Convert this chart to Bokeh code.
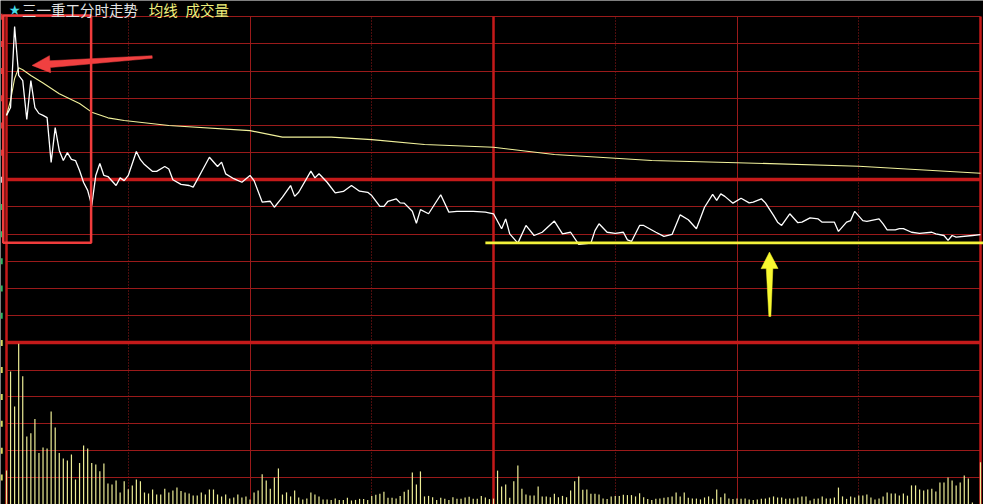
import math
from bokeh.plotting import figure
from bokeh.models import Range1d, Grid, FixedTicker, BoxAnnotation, Label
from bokeh.embed import file_html
from bokeh.resources import INLINE

# ---------------- data ----------------
TITLE_STAR = "★"
TITLE_NAME = "三一重工分时走势"
TITLE_AVG = "均线"
TITLE_VOL = "成交量"

# price line (minute index from 9:30, % change vs previous close)
PRICE_MIN = [0, 1, 2, 3, 4, 5, 6, 7, 8, 9, 10, 11, 12, 13, 14, 15, 16, 17, 18, 19,
             20, 21, 22, 23, 24, 25, 27, 28, 29, 30, 32, 33, 34, 36, 37, 39, 40, 41, 43, 45,
             46, 48, 50, 52, 53, 54, 56, 58, 60, 61, 63, 65, 66, 68, 70, 71, 72, 75, 76, 77,
             79, 81, 83, 85, 87, 89, 90, 92, 93, 94, 96, 97, 98, 100, 101, 102, 104, 107, 109, 111,
             115, 118, 120, 122, 123, 124, 126, 128, 130, 132, 135, 137, 139, 141, 144, 145, 146, 148, 150, 152,
             153, 154, 156, 157, 160, 162, 164, 166, 168, 170, 172, 174, 175, 176, 177, 179, 181, 183, 184, 186,
             187, 189, 190, 191, 193, 195, 196, 198, 200, 201, 204, 205, 207, 208, 209, 211, 212, 215, 216, 217,
             219, 220, 221, 223, 225, 228, 229, 231, 232, 233, 234, 238, 240]
PRICE_PCT = [2.37, 2.66, 5.64, 3.84, 3.65, 2.22, 3.65, 2.66, 2.44, 2.37, 2.29, 0.64, 1.92, 1.08, 0.71, 1.00, 0.75, 0.71, 0.34, -0.10,
             -0.39, -0.95, 0.16, 0.60, 0.16, 0.12, -0.21, 0.07, -0.03, 0.16, 1.04, 0.74, 0.56, 0.31, 0.31, 0.49, 0.40, 0.00, -0.17, -0.21,
             -0.27, 0.28, 0.83, 0.49, 0.65, 0.22, 0.04, -0.09, 0.16, -0.03, -0.82, -0.79, -1.01, -0.64, -0.21, -0.61, -0.46, 0.32, 0.07, 0.22,
             -0.09, -0.48, -0.43, -0.21, -0.42, -0.46, -0.58, -0.98, -0.98, -0.79, -0.70, -0.85, -0.86, -1.16, -1.60, -1.10, -1.25, -0.55, -1.19, -1.16,
             -1.16, -1.19, -1.25, -1.80, -1.44, -1.99, -2.33, -1.68, -2.05, -1.93, -1.52, -1.99, -1.93, -2.38, -2.33, -1.87, -1.62, -1.93, -1.97, -1.93,
             -2.21, -2.27, -1.68, -1.68, -1.93, -2.08, -2.01, -1.29, -1.47, -1.80, -1.01, -0.54, -0.76, -0.52, -0.61, -0.86, -0.68, -0.85, -0.82, -0.70,
             -0.85, -1.31, -1.56, -1.68, -1.25, -1.58, -1.56, -1.40, -1.44, -1.56, -1.56, -1.90, -1.56, -1.50, -1.16, -1.50, -1.53, -1.44, -1.62, -1.84,
             -1.84, -1.80, -1.80, -1.93, -1.97, -1.93, -1.99, -2.05, -2.23, -2.05, -2.11, -2.05, -2.02]

# average price line
AVG_MIN = [0, 1, 2, 3, 4, 6, 9, 13, 18, 21, 25, 29, 40, 60, 68, 80, 90, 103, 120, 135, 159, 180, 210, 240]
AVG_PCT = [2.37, 2.92, 3.73, 4.12, 4.05, 3.84, 3.56, 3.17, 2.81, 2.49, 2.28, 2.18, 2.00, 1.81, 1.57, 1.57, 1.48, 1.30,
           1.20, 0.93, 0.71, 0.63, 0.50, 0.24]

# volume per minute (units of one volume grid step)
VOLUME = [1.26, 4.94, 3.64, 5.98, 4.77, 2.53, 2.65, 3.18, 1.91, 2.12,
          2.08, 3.46, 2.86, 1.91, 1.71, 1.64, 1.86, 0.93, 1.54, 2.19,
          2.08, 1.54, 1.49, 1.24, 1.52, 0.78, 0.74, 0.89, 0.45, 0.86,
          0.57, 0.71, 0.93, 0.86, 0.45, 0.41, 0.56, 0.37, 0.37, 0.59,
          0.45, 0.52, 0.63, 0.50, 0.45, 0.41, 0.33, 0.33, 0.45, 0.37,
          0.56, 0.56, 0.37, 0.30, 0.37, 0.22, 0.26, 0.37, 0.26, 0.30,
          0.19, 0.45, 0.52, 1.12, 0.89, 0.59, 1.00, 1.34, 0.37, 0.45,
          0.30, 0.52, 0.26, 0.19, 0.22, 0.45, 0.37, 0.30, 0.19, 0.19,
          0.17, 0.22, 0.17, 0.17, 0.25, 0.15, 0.17, 0.21, 0.20, 0.17,
          0.32, 0.36, 0.40, 0.47, 0.25, 0.25, 0.22, 0.32, 0.47, 0.55,
          1.19, 0.74, 1.23, 0.30, 0.32, 0.27, 0.17, 0.25, 0.21, 0.17,
          0.27, 0.21, 0.21, 0.26, 0.29, 0.21, 0.21, 0.32, 0.26, 0.20,
          0.22, 1.26, 0.67, 0.74, 0.25, 0.86, 1.45, 0.59, 0.37, 0.33,
          0.33, 0.67, 0.30, 0.30, 0.27, 0.40, 0.27, 0.32, 0.27, 0.52,
          0.86, 1.04, 0.55, 0.56, 0.40, 0.40, 0.37, 0.22, 0.20, 0.30,
          0.32, 0.32, 0.36, 0.35, 0.35, 0.30, 0.42, 0.27, 0.20, 0.17,
          0.21, 0.22, 0.25, 0.27, 0.30, 0.45, 0.30, 0.45, 0.25, 0.22,
          0.22, 0.19, 0.26, 0.30, 0.21, 0.56, 0.27, 0.41, 0.22, 0.20,
          0.22, 0.21, 0.22, 0.19, 0.17, 0.19, 0.21, 0.22, 0.26, 0.30,
          0.26, 0.26, 0.21, 0.22, 0.22, 0.26, 0.30, 0.30, 0.15, 0.21,
          0.22, 0.30, 0.22, 0.22, 0.26, 0.63, 0.30, 0.21, 0.30, 0.26,
          0.33, 0.33, 0.37, 0.26, 0.19, 0.22, 0.30, 0.45, 0.41, 0.41,
          0.33, 0.41, 0.33, 0.71, 0.71, 0.56, 0.52, 0.56, 0.59, 0.48,
          0.82, 0.82, 1.00, 0.89, 0.71, 0.82, 1.08, 0.97, 0.07, 0.00,
          1.57]
VOL_MIN = list(range(len(VOLUME)))

# grid ticks
TIME_DOTTED = [30, 90, 150, 210]
TIME_SOLID = [60, 180]
TIME_BOLD = [0, 120, 240]
PCT_THIN = [-5, -4, -3, -2, -1, 1, 2, 3, 4, 5, 6]
PCT_BOLD = [0, -6]
VOL_THIN = [1, 2, 3, 4, 5]

# annotations (data units: minutes, %)
BOX = dict(left=-0.8, right=20.85, top=6.05, bottom=-2.32)
RED_ARROW_TAIL = (35.9, 4.52)
RED_ARROW_TIP = (6.3, 4.21)
SUPPORT_LEVEL = -2.32
SUPPORT_FROM = 118.0
YEL_ARROW_TAIL = (188.1, -5.03)
YEL_ARROW_TIP = (188.0, -2.66)

# ---------------- layout ----------------
W, H = 983, 504
PX_PER_MIN = 974 / 240
PX_PER_PCT = 27.17
PX_PER_VOL = 26.9
LEFT_PAD = 6.0
ZERO_Y = 179.3

x_start = -LEFT_PAD / PX_PER_MIN
x_end = x_start + W / PX_PER_MIN
y_end = ZERO_Y / PX_PER_PCT
y_start = y_end - H / PX_PER_PCT

p = figure(width=W, height=H,
           x_range=Range1d(x_start, x_end), y_range=Range1d(y_start, y_end),
           x_axis_type=None, y_axis_type=None,
           toolbar_location=None, output_backend="svg", min_border=0,
           background_fill_color="#000000", border_fill_color="#000000",
           outline_line_color=None)
p.extra_y_ranges = {"vol": Range1d(0, H / PX_PER_VOL)}

GRID_RED = "#9a1a1a"
BOLD_RED = "#c41a1a"


def add_grid(dim, ticks, color, width, dash="solid", rname="default", cross=None):
    g = Grid(dimension=dim, ticker=FixedTicker(ticks=ticks), grid_line_color=color,
             grid_line_width=width, grid_line_dash=dash, y_range_name=rname)
    if cross is not None:
        g.cross_bounds = cross
    p.add_layout(g)


add_grid(1, PCT_THIN, GRID_RED, 1, cross=(0, 240))
add_grid(1, VOL_THIN, GRID_RED, 1, rname="vol", cross=(0, 240))
add_grid(0, TIME_DOTTED, GRID_RED, 1, dash="1 2", cross=(y_start - 1, 6))
add_grid(0, TIME_SOLID, GRID_RED, 1, cross=(y_start - 1, 6))
add_grid(0, TIME_BOLD, BOLD_RED, 2.5, cross=(y_start - 1, 6))
add_grid(1, PCT_BOLD, BOLD_RED, 3.5, cross=(0, 240))

# clipped stubs of the left scale labels (red above close, green below, yellow volume)
stub_x = x_start + 1.2 / PX_PER_MIN
pct_levels = sorted(PCT_THIN + PCT_BOLD[:1])
pct_cols = ["#d83030" if v > 0 else ("#cfcfcf" if v == 0 else "#2fb860") for v in pct_levels]
p.rect(x=[stub_x] * len(pct_levels), y=pct_levels, width=2, height=6,
       width_units="screen", height_units="screen", fill_color=pct_cols,
       line_color=None)
vol_levels = VOL_THIN + [6]
p.rect(x=[stub_x] * len(vol_levels), y=vol_levels, width=2, height=6,
       width_units="screen", height_units="screen", fill_color="#d8d860",
       line_color=None, y_range_name="vol")

# volume bars
p.segment(x0=VOL_MIN, y0=[0] * len(VOLUME), x1=VOL_MIN, y1=VOLUME, y_range_name="vol",
          line_color="#ecec96", line_width=1.2)

# average and price lines
p.line(AVG_MIN, AVG_PCT, line_color="#f2f29c", line_width=1.1)
p.line(PRICE_MIN, PRICE_PCT, line_color="#ffffff", line_width=1.3)

# annotations
p.add_layout(BoxAnnotation(fill_alpha=0, fill_color=None, line_color="#f03c3c",
                           line_alpha=1.0, line_width=2.5, **BOX))


def tapered_arrow(tail, tip, head_len, head_half, shaft_tail, shaft_head):
    tx, ty = tail[0] * PX_PER_MIN, tail[1] * PX_PER_PCT
    hx, hy = tip[0] * PX_PER_MIN, tip[1] * PX_PER_PCT
    dx, dy = hx - tx, hy - ty
    L = math.hypot(dx, dy)
    ux, uy = dx / L, dy / L
    nx, ny = -uy, ux
    bx, by = hx - ux * head_len, hy - uy * head_len
    pts = [(tx + nx * shaft_tail, ty + ny * shaft_tail),
           (bx + nx * shaft_head, by + ny * shaft_head),
           (bx + nx * head_half, by + ny * head_half),
           (hx, hy),
           (bx - nx * head_half, by - ny * head_half),
           (bx - nx * shaft_head, by - ny * shaft_head),
           (tx - nx * shaft_tail, ty - ny * shaft_tail)]
    return [a / PX_PER_MIN for a, _ in pts], [b / PX_PER_PCT for _, b in pts]


rx, ry = tapered_arrow(RED_ARROW_TAIL, RED_ARROW_TIP, 18, 8.5, 1.3, 3.4)
p.patch(rx, ry, fill_color="#f04040", line_color="#f04040", line_width=0.5)

p.segment(x0=[SUPPORT_FROM], y0=[SUPPORT_LEVEL], x1=[x_end + 1], y1=[SUPPORT_LEVEL],
          line_color="#f2f23a", line_width=2.6)

yx, yy = tapered_arrow(YEL_ARROW_TAIL, YEL_ARROW_TIP, 16.5, 8.5, 1.0, 3.3)
p.patch(yx, yy, fill_color="#f8f830", line_color="#f8f830", line_width=0.5)

# title texts
TITLE_Y = 6.27
FONT = "Noto Sans CJK SC"
for tx, txt, col, fs in [(0.7, TITLE_STAR, "#46dce6", "11px"),
                         (3.85, TITLE_NAME, "#e4e4e4", "14.5px"),
                         (35.05, TITLE_AVG, "#f0f07c", "14.5px"),
                         (44.1, TITLE_VOL, "#f0f07c", "14.5px")]:
    p.add_layout(Label(x=tx, y=TITLE_Y, text=txt, text_color=col, text_font=FONT,
                       text_font_size=fs, text_baseline="middle", text_align="left"))

open("out.html", "w").write(file_html(p, INLINE))
